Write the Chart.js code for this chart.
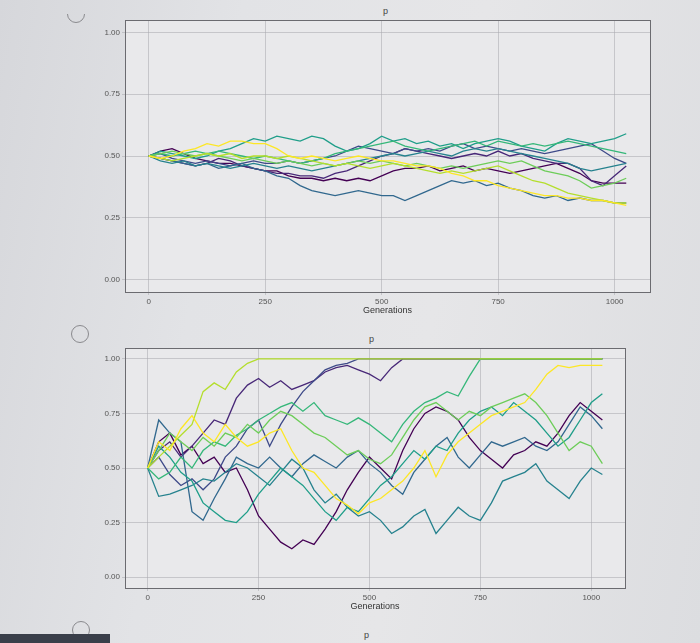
<!DOCTYPE html>
<html>
<head>
<meta charset="utf-8">
<script src="https://cdn.jsdelivr.net/npm/chart.js@4"></script>
<style>
    body { margin: 0; width: 700px; height: 643px; overflow: hidden;
           background: linear-gradient(100deg, #d6d7db 0%, #e2e3e6 30%, #e6e6e8 60%, #dcdde0 100%);
           font-family: "Liberation Sans", Arial, sans-serif; position: relative; }
    canvas { position: absolute; left: 0; }
    .ptitle { position: absolute; font-size: 9px; color: #444; }
    .radio { position: absolute; width: 16px; height: 16px; border: 1.5px solid #8a8a8e; border-radius: 50%; }
    .dock { position: absolute; left: 0; top: 634px; width: 110px; height: 9px; background: #3a3f4a; }
</style>
</head>
<body>
<div class="radio" style="left:67px;top:5px;clip-path:inset(50% 0 0 0);"></div>
<div class="radio" style="left:71px;top:325px;"></div>
<div class="radio" style="left:72px;top:621px;"></div>
<div class="dock"></div>
<span class="ptitle" style="left:383px;top:6px;">p</span>
<span class="ptitle" style="left:369px;top:334px;">p</span>
<span class="ptitle" style="left:364px;top:630px;">p</span>
<canvas id="drift-small" width="700" height="316" style="top:0px;"></canvas>
<canvas id="drift-large" width="700" height="292" style="top:320px;"></canvas>
<script>
// generations sampled every 25
const generations = [0, 25, 50, 75, 100, 125, 150, 175, 200, 225, 250, 275, 300, 325, 350, 375, 400, 425, 450, 475,
    500, 525, 550, 575, 600, 625, 650, 675, 700, 725, 750, 775, 800, 825, 850, 875, 900, 925, 950, 975, 1000, 1025];
const xTicks = [0, 250, 500, 750, 1000];
const yTicks = [0, 0.25, 0.5, 0.75, 1];
const lineColors = ['#440154', '#482878', '#3e4a89', '#31688e', '#26828e', '#1f9e89', '#35b779', '#6dcd59', '#b4de2c', '#fde725'];

// top panel: large population, little drift
const topD = [0.50,0.52,0.53,0.51,0.49,0.48,0.47,0.47,0.46,0.45,0.44,0.44,0.42,0.41,0.41,0.40,0.41,0.40,0.41,0.40,0.42,0.44,0.45,0.45,0.46,0.44,0.45,0.46,0.44,0.45,0.44,0.43,0.44,0.45,0.46,0.47,0.45,0.43,0.40,0.39,0.39,0.39];
const topE = [0.50,0.49,0.48,0.47,0.46,0.47,0.49,0.48,0.46,0.45,0.44,0.43,0.43,0.42,0.42,0.41,0.43,0.44,0.46,0.48,0.50,0.51,0.53,0.52,0.51,0.50,0.49,0.50,0.51,0.50,0.52,0.50,0.51,0.49,0.48,0.47,0.47,0.45,0.40,0.38,0.42,0.46];
const topF = [0.50,0.51,0.49,0.48,0.47,0.48,0.47,0.46,0.47,0.48,0.47,0.47,0.48,0.47,0.48,0.49,0.50,0.52,0.54,0.53,0.52,0.51,0.53,0.52,0.53,0.52,0.54,0.55,0.53,0.54,0.53,0.52,0.53,0.52,0.51,0.52,0.53,0.54,0.55,0.52,0.49,0.47];
const topB = [0.50,0.49,0.48,0.47,0.46,0.47,0.45,0.46,0.47,0.45,0.44,0.42,0.41,0.38,0.36,0.35,0.34,0.35,0.36,0.35,0.34,0.34,0.32,0.34,0.36,0.38,0.40,0.39,0.40,0.38,0.39,0.37,0.36,0.34,0.33,0.34,0.32,0.33,0.32,0.32,0.31,0.31];
const topJ = [0.50,0.48,0.47,0.48,0.46,0.47,0.46,0.45,0.46,0.47,0.46,0.45,0.46,0.45,0.44,0.45,0.46,0.47,0.48,0.49,0.50,0.51,0.50,0.51,0.52,0.51,0.50,0.52,0.53,0.52,0.53,0.52,0.51,0.50,0.49,0.48,0.47,0.45,0.44,0.45,0.46,0.47];
const topA = [0.50,0.52,0.51,0.50,0.49,0.50,0.52,0.53,0.55,0.57,0.56,0.58,0.57,0.56,0.58,0.57,0.54,0.52,0.53,0.55,0.58,0.56,0.57,0.55,0.56,0.54,0.55,0.53,0.55,0.56,0.57,0.56,0.54,0.53,0.52,0.55,0.57,0.56,0.55,0.56,0.57,0.59];
const topG = [0.50,0.51,0.50,0.51,0.52,0.51,0.52,0.51,0.50,0.49,0.50,0.49,0.48,0.47,0.48,0.49,0.51,0.52,0.53,0.54,0.55,0.56,0.54,0.53,0.52,0.53,0.54,0.55,0.56,0.54,0.56,0.55,0.54,0.55,0.54,0.55,0.56,0.55,0.54,0.53,0.52,0.51];
const topH = [0.50,0.51,0.52,0.51,0.50,0.51,0.50,0.49,0.48,0.49,0.48,0.47,0.48,0.47,0.46,0.47,0.46,0.47,0.48,0.47,0.48,0.47,0.46,0.47,0.46,0.45,0.46,0.45,0.46,0.47,0.48,0.47,0.48,0.46,0.44,0.43,0.42,0.40,0.37,0.38,0.39,0.41];
const topI = [0.50,0.49,0.48,0.49,0.50,0.51,0.50,0.51,0.49,0.50,0.50,0.49,0.50,0.49,0.48,0.47,0.46,0.47,0.46,0.45,0.46,0.47,0.46,0.45,0.44,0.43,0.44,0.43,0.44,0.45,0.46,0.44,0.42,0.40,0.39,0.37,0.35,0.34,0.33,0.32,0.31,0.31];
const topC = [0.50,0.49,0.50,0.52,0.53,0.55,0.54,0.56,0.56,0.55,0.55,0.53,0.50,0.49,0.50,0.49,0.48,0.49,0.50,0.49,0.48,0.48,0.47,0.46,0.46,0.45,0.43,0.42,0.40,0.40,0.38,0.37,0.36,0.35,0.34,0.34,0.33,0.33,0.32,0.32,0.31,0.30];

// bottom panel: small population, strong drift
const botL6 = [0.50,0.62,0.66,0.56,0.60,0.52,0.55,0.48,0.50,0.40,0.28,0.22,0.16,0.13,0.17,0.15,0.22,0.30,0.40,0.48,0.55,0.50,0.45,0.58,0.68,0.75,0.78,0.76,0.72,0.64,0.58,0.54,0.50,0.56,0.58,0.62,0.60,0.66,0.74,0.80,0.76,0.72];
const botL2 = [0.50,0.58,0.62,0.55,0.60,0.66,0.72,0.70,0.82,0.88,0.91,0.87,0.90,0.86,0.88,0.90,0.94,0.96,0.97,0.95,0.93,0.90,0.96,1,1,1,1,1,1,1,1,1,1,1,1,1,1,1,1,1,1,1];
const botL3 = [0.50,0.55,0.47,0.42,0.45,0.40,0.45,0.55,0.60,0.68,0.72,0.60,0.70,0.78,0.85,0.90,0.95,0.97,0.98,1,1,1,1,1,1,1,1,1,1,1,1,1,1,1,1,1,1,1,1,1,1,1];
const botL7 = [0.50,0.72,0.66,0.62,0.30,0.26,0.36,0.45,0.55,0.52,0.50,0.55,0.50,0.46,0.52,0.56,0.53,0.50,0.55,0.58,0.52,0.48,0.42,0.38,0.48,0.54,0.60,0.64,0.55,0.50,0.56,0.62,0.60,0.62,0.64,0.60,0.58,0.62,0.70,0.78,0.74,0.68];
const botL8 = [0.50,0.37,0.38,0.40,0.42,0.45,0.44,0.48,0.52,0.50,0.46,0.42,0.48,0.54,0.50,0.40,0.34,0.38,0.32,0.28,0.30,0.26,0.20,0.23,0.28,0.31,0.20,0.26,0.32,0.28,0.26,0.34,0.44,0.46,0.48,0.52,0.44,0.40,0.36,0.44,0.50,0.47];
const botL9 = [0.50,0.60,0.55,0.48,0.44,0.34,0.30,0.26,0.25,0.30,0.38,0.44,0.50,0.46,0.42,0.36,0.30,0.26,0.32,0.30,0.36,0.42,0.46,0.52,0.58,0.54,0.60,0.58,0.66,0.72,0.76,0.78,0.74,0.80,0.76,0.72,0.66,0.60,0.64,0.72,0.80,0.84];
const botL4 = [0.50,0.45,0.48,0.55,0.50,0.58,0.62,0.60,0.65,0.68,0.72,0.75,0.78,0.80,0.76,0.80,0.74,0.72,0.70,0.73,0.70,0.66,0.62,0.70,0.76,0.80,0.82,0.85,0.83,0.92,1,1,1,1,1,1,1,1,1,1,1,1];
const botL10 = [0.50,0.58,0.66,0.62,0.58,0.64,0.60,0.66,0.64,0.70,0.66,0.72,0.76,0.74,0.70,0.66,0.64,0.60,0.56,0.58,0.54,0.52,0.56,0.64,0.72,0.78,0.80,0.76,0.72,0.76,0.74,0.78,0.80,0.82,0.84,0.80,0.74,0.66,0.58,0.62,0.60,0.52];
const botL1 = [0.50,0.55,0.60,0.65,0.70,0.85,0.89,0.86,0.94,0.98,1,1,1,1,1,1,1,1,1,1,1,1,1,1,1,1,1,1,1,1,1,1,1,1,1,1,1,1,1,1,1,1];
const botL5 = [0.50,0.62,0.58,0.68,0.74,0.66,0.62,0.70,0.64,0.60,0.62,0.66,0.68,0.58,0.50,0.48,0.42,0.36,0.33,0.29,0.34,0.36,0.40,0.44,0.50,0.58,0.46,0.56,0.62,0.66,0.70,0.74,0.76,0.78,0.80,0.86,0.93,0.97,0.96,0.97,0.97,0.97];

const topSeries = [topD, topE, topF, topB, topJ, topA, topG, topH, topI, topC];
const botSeries = [botL6, botL2, botL3, botL7, botL8, botL9, botL4, botL10, botL1, botL5];

// fill the panel background like ggplot, border on top
const panelBg = {
    id: 'panelBg',
    beforeDraw(chart) {
        const { ctx, chartArea: a } = chart;
        ctx.save();
        ctx.fillStyle = '#e9e9eb';
        ctx.fillRect(a.left, a.top, a.right - a.left, a.bottom - a.top);
        ctx.restore();
    },
    afterDraw(chart) {
        const { ctx, chartArea: a } = chart;
        ctx.save();
        ctx.strokeStyle = '#6b6b70';
        ctx.lineWidth = 1;
        ctx.strokeRect(a.left + 0.5, a.top + 0.5, a.right - a.left, a.bottom - a.top);
        ctx.restore();
    }
};

function makeDrift(canvasId, series, pad) {
    const canvas = document.getElementById(canvasId);
    if (!canvas) {
        console.error("Canvas not found: " + canvasId);
        return;
    }
    new Chart(canvas.getContext('2d'), {
        type: 'line',
        data: {
            datasets: series.map(function (vals, i) {
                return {
                    data: vals.map(function (v, j) { return { x: generations[j], y: v }; }),
                    borderColor: lineColors[i],
                    borderWidth: 1.3,
                    pointRadius: 0,
                    tension: 0,
                    fill: false,
                    order: series.length - i // later colours drawn on top
                };
            })
        },
        options: {
            responsive: false,
            animation: false,
            layout: { padding: pad },
            plugins: {
                legend: { display: false },
                tooltip: { enabled: false }
            },
            scales: {
                x: {
                    type: 'linear',
                    min: -51,
                    max: 1076,
                    afterBuildTicks: function (scale) { scale.ticks = xTicks.map(function (v) { return { value: v }; }); },
                    afterFit: function (scale) { scale.height = 24; },
                    grid: { color: 'rgba(170,170,175,0.55)', tickLength: 3 },
                    border: { display: false },
                    ticks: {
                        color: '#555',
                        padding: 2,
                        maxRotation: 0,
                        font: { family: 'Liberation Sans', size: 8 },
                        callback: function (v) { return String(v); }
                    },
                    title: {
                        display: true,
                        text: 'Generations',
                        color: '#333',
                        padding: { top: 0, bottom: 0 },
                        font: { family: 'Liberation Sans', size: 9 }
                    }
                },
                y: {
                    type: 'linear',
                    min: -0.05,
                    max: 1.05,
                    afterBuildTicks: function (scale) { scale.ticks = yTicks.map(function (v) { return { value: v }; }); },
                    afterFit: function (scale) { scale.width = 40; },
                    grid: { color: 'rgba(170,170,175,0.55)', tickLength: 3 },
                    border: { display: false },
                    ticks: {
                        color: '#555',
                        padding: 2,
                        font: { family: 'Liberation Sans', size: 8 },
                        callback: function (v) { return v.toFixed(2); }
                    }
                }
            }
        },
        plugins: [panelBg]
    });
}

document.addEventListener("DOMContentLoaded", function () {
    makeDrift('drift-small', topSeries, { left: 85, right: 50, top: 20, bottom: 0 });
    makeDrift('drift-large', botSeries, { left: 85, right: 75, top: 28, bottom: 0 });
});
</script>
</body>
</html>
